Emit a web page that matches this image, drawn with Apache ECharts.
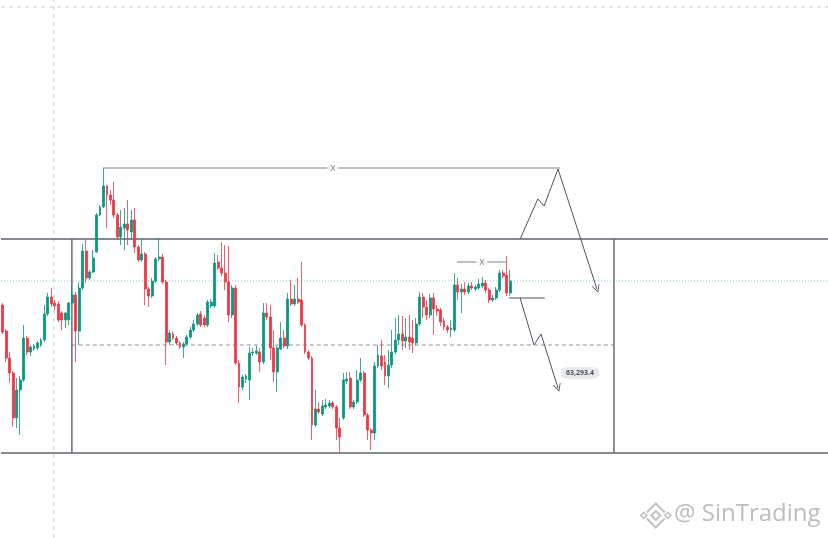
<!DOCTYPE html>
<html>
<head>
<meta charset="utf-8">
<script src="https://cdn.jsdelivr.net/npm/echarts@6/dist/echarts.min.js"></script>
<style>
html,body{margin:0;padding:0;background:#fff;}
#chart{width:828px;height:538px;}
</style>
</head>
<body>
<div id="chart"></div>
<script>
// ---- candle data (price) ----
const candleOpen = [66750,65450,64100,63350,61100,62500,63000,65100,64400,64550,64600,64750,65000,66300,67150,66850,66800,66350,66000,66000,66850,67250,65450,67600,69450,68100,68400,69400,71250,71650,72700,72250,72000,71250,70150,70600,70800,70400,71000,69650,69000,69300,67550,67200,67950,69050,69150,67900,64900,65300,65100,64850,64650,64800,65150,65500,65800,66300,66100,65750,66700,66700,68900,68600,68350,67900,66250,67600,63850,62650,63050,63000,64350,64350,64400,63900,66350,66150,64600,63400,64550,65100,64700,67050,66800,67050,67000,65750,64400,64100,60750,61550,61300,61650,61700,61850,61650,60600,61100,62950,63100,61650,61900,63000,63350,61250,60500,60350,63700,64200,63900,63200,63750,64400,65000,65300,64950,65150,65100,64850,65800,67150,66650,66250,67100,66550,66500,65950,65650,65500,65500,67750,67400,67550,67400,67700,67550,67600,67700,67850,67500,67000,67100,67500,68350,68250,67350];
const candleClose = [65400,64100,63350,61100,62500,63000,65100,64400,64650,64700,64850,65000,66300,67150,66800,66700,66000,66000,66350,66850,67250,65450,67600,69450,68100,68400,69100,71250,71650,72700,72250,72000,71250,70150,70650,70800,70500,71000,69650,69000,69300,67550,67200,67950,69050,69150,67900,64900,65350,65100,64850,64650,64800,65150,65500,65800,66250,65750,65750,66900,66900,68850,68600,68350,67900,66250,67600,63850,62650,63150,63200,64350,64400,64450,63900,66350,66150,64600,63400,64600,65100,64700,67050,66800,67050,66900,65750,64400,64100,60750,61550,61400,61700,61750,61850,61650,60600,60150,63000,63050,61650,61900,63000,63350,61250,60500,60350,63700,64250,63700,63200,63750,64400,65000,65300,64950,65150,64900,64850,65800,67150,66650,66250,67100,66550,66450,65900,65650,65500,65600,67750,67400,67550,67400,67700,67600,67650,67800,67850,67500,67000,67100,67500,68350,68200,67350,67950];
const candleLow = [65300,63900,62850,60650,60600,60250,62900,64250,64200,64450,64500,64650,64900,66200,66650,66500,65900,65500,65600,65750,66800,63900,64750,67500,67850,68000,68350,69350,71200,71600,70600,71750,71100,70000,69750,69500,69750,70000,69350,68900,68900,66750,66650,67100,67850,68950,67800,63750,64750,65000,64750,64550,64100,64700,65050,65400,65700,65650,65650,65650,66600,66600,68500,68200,67500,65900,66100,63750,61850,62500,62850,62000,64200,64250,63400,63800,66000,64000,62900,62400,64500,64600,64550,66700,66700,66800,65650,64300,64000,60000,60650,61300,61200,61550,61600,61550,60000,59400,61000,62800,61550,61550,61800,62900,61150,60000,59500,60000,63600,63500,62750,62600,63600,64300,64750,64500,64600,64500,64350,64750,65700,66100,66000,66100,65250,66200,65700,65500,65350,65150,65400,67000,66350,67250,67300,67500,67450,67500,67600,67350,66850,66900,67000,67400,68100,67200,67200];
const candleHigh = [66850,65550,64400,63450,63100,63200,65750,65200,64750,64800,64950,65100,66750,67350,67600,67000,66950,66450,66400,66900,67750,67400,67900,69800,70000,68500,69500,71350,71750,73600,72750,72500,72900,71350,71500,71600,72000,71500,71600,69750,70050,69400,67650,68100,69150,70100,69300,68000,65500,65450,65200,64950,64900,65250,65650,66000,66350,66450,66250,67000,67050,69350,69250,69900,69750,69700,67750,67750,64000,63250,63300,64650,64600,64700,64600,66850,66850,66750,65500,64700,65900,65500,67350,68000,67750,68100,68900,65850,64500,64200,62500,61900,62000,62050,62000,61950,61750,61100,63350,63400,63400,62000,63500,64100,63450,61350,60600,63900,64750,65000,64250,64500,65500,66100,66250,66200,66100,66250,66000,66100,67400,67350,67000,67300,67350,66750,66600,66100,65750,66000,68350,68100,67800,67900,67850,67900,67750,68050,68150,68000,67600,67250,67650,68500,68500,69200,68500];
const totalSlots = 238;            // chart slots incl. empty future bars
const categories = [];
for (let i = 0; i < totalSlots; i++) categories.push('#' + (i + 1));

// ---- drawing levels (price) and anchors (bar index) ----
const topGuide = 81650;
const rangeTop = 70050;
const rangeBottom = 59350;
const midDotted = 67950;
const midDashed = 64750;
const projHigh = 73600;
const minorHigh = 68900;
const lastLevel = 67100;
const guideIdx = 14.75;
const rangeStartIdx = 19.9;
const rangeEndIdx = 175.9;
const projIdx = [28.85, 160.4];
const minorIdx = [130.7, 145.1];
const lastIdx = [145.7, 156.0];
const upPathIdx = [148.9, 154.0, 155.8, 159.8, 171.0];
const upPathPrice = [70050, 72050, 71700, 73550, 67550];
const downPathIdx = [148.9, 152.9, 154.9, 159.8];
const downPathPrice = [67100, 64750, 65300, 62600];
const targetLabel = '63,293.4';
const targetAt = [166.1, 63350];
const xMarkAt = [[95.0, 73600], [137.9, 68900]];
const yMin = 55100, yMax = 82000, xMin = -0.5, xMax = 237.5;

const candles = candleOpen.map((o, i) => [o, candleClose[i], candleLow[i], candleHigh[i]]);
const zip = (xs, ys) => xs.map((x, i) => [x, ys[i]]);

function seg(points, color, width, type, z) {
  return {
    type: 'line', xAxisIndex: 1, yAxisIndex: 0, data: points, symbol: 'none',
    silent: true, z: z || 3, animation: false,
    lineStyle: { color: color, width: width, type: type || 'solid' }
  };
}
const arrowHead = 'path://M0,10 L5,0 L10,10 L8.8,10 L5,2.4 L1.2,10 Z';
function arrowPath(xs, ys) {
  const pts = zip(xs, ys);
  const s = seg(pts.slice(0, pts.length - 1), '#50535e', 1, 'solid', 4);
  s.markLine = {
    silent: true, animation: false,
    symbol: ['none', arrowHead], symbolSize: [8, 8],
    label: { show: false },
    lineStyle: { color: '#50535e', width: 1, type: 'solid' },
    data: [[{ coord: pts[pts.length - 2] }, { coord: pts[pts.length - 1] }]]
  };
  return s;
}

const series = [
  seg([[guideIdx, yMin], [guideIdx, yMax]], '#c9cbd0', 1, [4, 4], 1),
  seg([[xMin, topGuide], [xMax, topGuide]], '#c9cbd0', 1, [4, 4], 1),
  seg([[xMin, midDotted], [xMax, midDotted]], '#8ccfc8', 1, [1, 2], 1),
  seg([[rangeStartIdx, midDashed], [rangeEndIdx, midDashed]], '#8e919a', 1, [4, 3], 1),
  seg([[xMin, rangeTop], [xMax, rangeTop]], '#5f626c', 1.4, 'solid', 2),
  seg([[xMin, rangeBottom], [xMax, rangeBottom]], '#5f626c', 1.4, 'solid', 2),
  seg([[rangeStartIdx, rangeTop], [rangeStartIdx, rangeBottom]], '#5f626c', 1.4, 'solid', 2),
  seg([[rangeEndIdx, rangeTop], [rangeEndIdx, rangeBottom]], '#5f626c', 1.4, 'solid', 2),
  {
    type: 'candlestick', xAxisIndex: 0, yAxisIndex: 0, data: candles,
    barWidth: 2.4, z: 5, animation: false, silent: true,
    itemStyle: {
      color: '#089981', color0: '#f23645',
      borderColor: 'rgba(8,153,129,0.8)', borderColor0: 'rgba(242,54,69,0.8)',
      borderWidth: 1
    }
  },
  seg([[projIdx[0], projHigh], [projIdx[1], projHigh]], '#7d808a', 1, 'solid', 6),
  seg([[minorIdx[0], minorHigh], [minorIdx[1], minorHigh]], '#7d808a', 1, 'solid', 6),
  seg([[lastIdx[0], lastLevel], [lastIdx[1], lastLevel]], '#50535e', 1.2, 'solid', 6),
  arrowPath(upPathIdx, upPathPrice),
  arrowPath(downPathIdx, downPathPrice),
  {
    type: 'scatter', xAxisIndex: 1, yAxisIndex: 0, data: xMarkAt, z: 8, silent: true, animation: false,
    symbol: 'rect', symbolSize: [11, 7], itemStyle: { color: '#ffffff' },
    label: { show: true, position: 'inside', formatter: 'x', color: '#6d707a', fontSize: 10,
      fontFamily: 'Noto Sans', lineHeight: 10, padding: [0, 0, 2, 0] }
  },
  {
    type: 'scatter', xAxisIndex: 1, yAxisIndex: 0, data: [targetAt], z: 8, silent: true, animation: false,
    symbol: 'roundRect', symbolSize: [38, 12], itemStyle: { color: '#e2e4e9' },
    label: { show: true, position: 'inside', formatter: targetLabel, color: '#1e222d', fontSize: 7,
      fontWeight: 'bold', fontFamily: 'Noto Sans' }
  }
];

const chart = echarts.init(document.getElementById('chart'), null, { renderer: 'canvas' });
chart.setOption({
  animation: false,
  backgroundColor: '#ffffff',
  grid: { left: 1, right: 0, top: 0, bottom: 0, containLabel: false },
  xAxis: [
    { type: 'category', data: categories, show: false, boundaryGap: true },
    { type: 'value', min: xMin, max: xMax, show: false }
  ],
  yAxis: [{ type: 'value', min: yMin, max: yMax, show: false, scale: true }],
  graphic: [
    {
      type: 'group', left: 640, top: 501, silent: true,
      children: [
        { type: 'polyline', shape: { points: [[6, 10], [15, 1], [24, 10]] }, style: { stroke: '#c2c2c2', lineWidth: 2, fill: null } },
        { type: 'polyline', shape: { points: [[6, 16], [15, 25], [24, 16]] }, style: { stroke: '#c2c2c2', lineWidth: 2, fill: null } },
        { type: 'polygon', shape: { points: [[15, 8.5], [19.5, 13], [15, 17.5], [10.5, 13]] }, style: { stroke: '#c2c2c2', lineWidth: 2, fill: '#fff' } },
        { type: 'polygon', shape: { points: [[3, 10], [6, 13], [3, 16], [0, 13]] }, style: { stroke: '#c2c2c2', lineWidth: 1.6, fill: '#fff' } },
        { type: 'polygon', shape: { points: [[27, 10], [30, 13], [27, 16], [24, 13]] }, style: { stroke: '#c2c2c2', lineWidth: 1.6, fill: '#fff' } }
      ]
    },
    {
      type: 'text', left: 674, top: 502, silent: true,
      style: { text: '@ SinTrading', fill: '#bdbdbd', font: '24px "Open Sans"' }
    }
  ],
  series: series
});
</script>
</body>
</html>
